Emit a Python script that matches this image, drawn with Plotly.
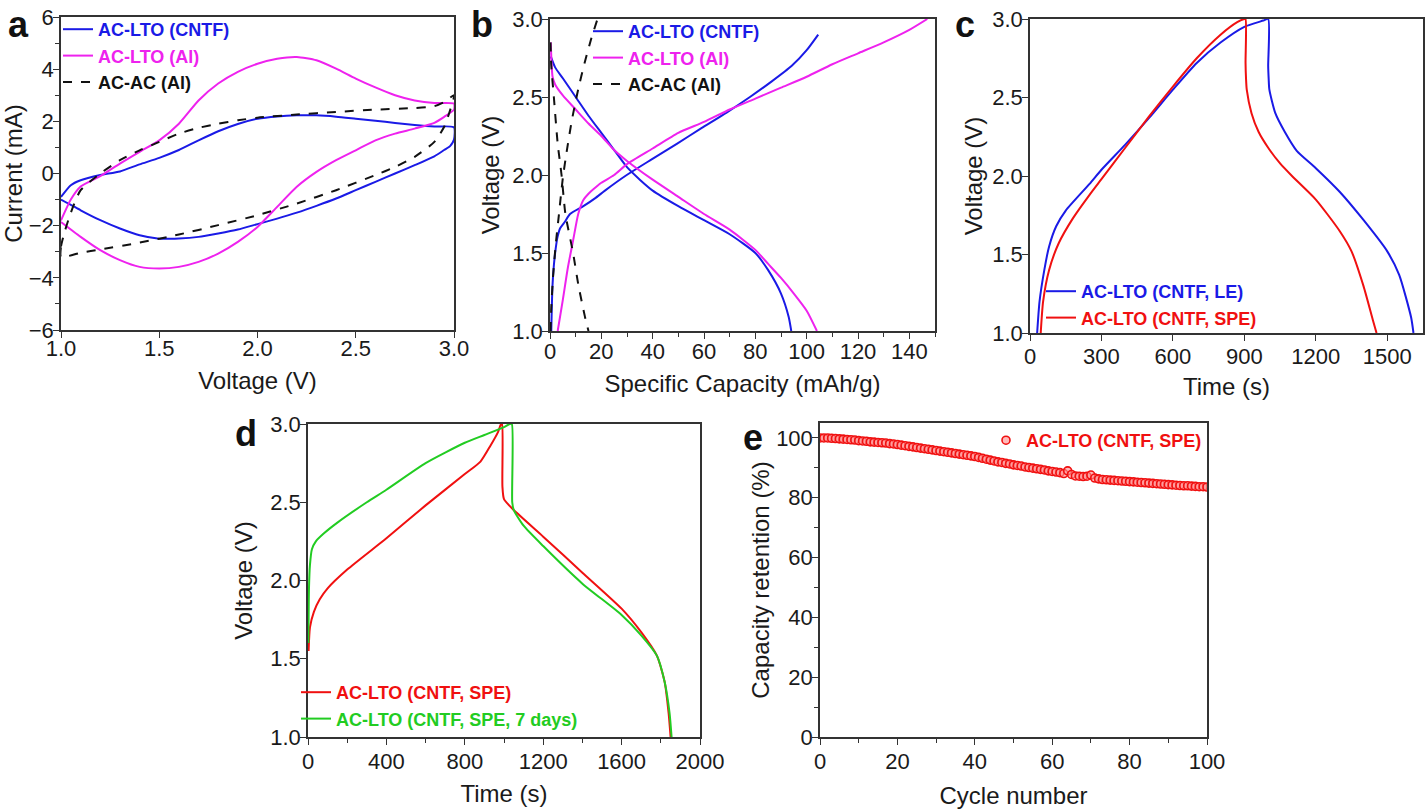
import plotly.graph_objects as go

W, H = 1425, 810

# ---------------- Panel a: CV ----------------
cv_cntf_v = [1.0, 1.05, 1.1, 1.2, 1.3, 1.4, 1.5, 1.6, 1.7, 1.8, 1.9, 2.0, 2.1, 2.2, 2.3, 2.4, 2.5, 2.6, 2.7, 2.8, 2.9, 3.0,
             3.0, 2.98, 2.95, 2.9, 2.8, 2.7, 2.6, 2.5, 2.4, 2.3, 2.2, 2.1, 2.0, 1.9, 1.8, 1.7, 1.6, 1.5, 1.4, 1.3, 1.2, 1.1, 1.05, 1.0]
cv_cntf_i = [-0.9, -0.45, -0.26, -0.06, 0.08, 0.35, 0.6, 0.9, 1.27, 1.62, 1.9, 2.1, 2.19, 2.23, 2.23, 2.18, 2.1, 2.02, 1.94, 1.86, 1.8, 1.77,
             1.3, 1.05, 0.9, 0.66, 0.32, 0.0, -0.32, -0.64, -0.96, -1.24, -1.5, -1.73, -1.94, -2.15, -2.3, -2.43, -2.49, -2.5, -2.37, -2.11, -1.79, -1.41, -1.2, -1.0]
cv_al_v = [1.0, 1.05, 1.1, 1.2, 1.3, 1.4, 1.5, 1.6, 1.7, 1.8, 1.9, 2.0, 2.1, 2.2, 2.3, 2.4, 2.5, 2.6, 2.7, 2.8, 2.9, 3.0,
           3.0, 2.95, 2.9, 2.8, 2.7, 2.6, 2.5, 2.4, 2.3, 2.2, 2.1, 2.0, 1.9, 1.8, 1.7, 1.6, 1.5, 1.4, 1.3, 1.2, 1.1, 1.0]
cv_al_i = [-1.8, -1.0, -0.5, -0.1, 0.38, 0.83, 1.27, 1.91, 2.8, 3.45, 3.9, 4.21, 4.4, 4.47, 4.34, 4.02, 3.64, 3.3, 3.0, 2.8, 2.7, 2.68,
           2.45, 2.17, 1.94, 1.72, 1.53, 1.27, 0.89, 0.51, 0.06, -0.51, -1.28, -2.05, -2.62, -3.07, -3.39, -3.58, -3.64, -3.58, -3.32, -2.94, -2.43, -1.86]
cv_acac_v = [1.0, 1.0, 1.02, 1.05, 1.1, 1.2, 1.3, 1.4, 1.5, 1.6, 1.7, 1.8, 1.9, 2.0, 2.2, 2.4, 2.6, 2.8, 2.9, 2.95, 3.0,
             2.98, 2.95, 2.9, 2.8, 2.7, 2.6, 2.4, 2.2, 2.0, 1.8, 1.6, 1.4, 1.2, 1.1, 1.0]
cv_acac_i = [-3.2, -2.8, -2.2, -1.5, -0.64, 0.0, 0.51, 0.89, 1.21, 1.53, 1.75, 1.91, 2.04, 2.14, 2.26, 2.36, 2.45, 2.51, 2.58, 2.74, 3.0,
             2.42, 1.79, 1.21, 0.64, 0.25, -0.06, -0.64, -1.15, -1.6, -1.98, -2.34, -2.65, -2.91, -3.04, -3.2]

# ---------------- Panel b: GCD vs capacity ----------------
b_cntf_ch_c = [0.5, 0.7, 1.0, 1.5, 2.0, 2.9, 4.0, 5.8, 7.8, 13, 17.5, 21.4, 29.9, 39.6, 49.4, 59, 68.8, 77.9, 86.4, 94.2, 100, 104.5]
b_cntf_ch_v = [1.0, 1.15, 1.3, 1.42, 1.5, 1.6, 1.66, 1.7, 1.75, 1.8, 1.85, 1.9, 2.0, 2.1, 2.2, 2.3, 2.4, 2.5, 2.6, 2.7, 2.8, 2.9]
b_cntf_dis_c = [0.3, 2, 5, 10, 15, 20, 25, 30, 35, 40, 50, 60, 70, 80, 85, 90, 93, 94]
b_cntf_dis_v = [2.76, 2.69, 2.62, 2.5, 2.38, 2.27, 2.16, 2.05, 1.97, 1.9, 1.8, 1.71, 1.62, 1.5, 1.39, 1.24, 1.09, 1.0]
b_al_ch_c = [3, 5, 7, 9, 11, 13, 15, 17, 20, 25, 30, 40, 50, 60, 70, 80, 90, 100, 110, 120, 130, 140, 147]
b_al_ch_v = [1.0, 1.2, 1.41, 1.58, 1.75, 1.84, 1.88, 1.91, 1.95, 2.0, 2.07, 2.17, 2.27, 2.34, 2.42, 2.49, 2.56, 2.63, 2.71, 2.78, 2.85, 2.93, 3.0]
b_al_dis_c = [0.3, 1, 2, 5, 10, 15, 20, 25, 30, 40, 50, 60, 70, 80, 85, 90, 95, 100, 104]
b_al_dis_v = [2.85, 2.63, 2.58, 2.51, 2.42, 2.33, 2.25, 2.16, 2.09, 1.97, 1.86, 1.75, 1.65, 1.52, 1.43, 1.34, 1.24, 1.13, 1.0]
b_acac_ch_c = [0.2, 0.5, 1.2, 2.2, 3.5, 5, 6.5, 8.5, 11, 13.5, 16, 18.5]
b_acac_ch_v = [1.0, 1.15, 1.35, 1.55, 1.75, 1.98, 2.15, 2.35, 2.55, 2.72, 2.87, 3.0]
b_acac_dis_c = [0.2, 0.5, 1.5, 3, 4.5, 6, 9, 11, 13.5, 15]
b_acac_dis_v = [2.85, 2.7, 2.5, 2.2, 2.0, 1.75, 1.5, 1.3, 1.1, 1.0]

# ---------------- Panel c: GCD vs time ----------------
c_le_t = [30, 40, 60, 80, 110, 150, 250, 300, 400, 500, 600, 700, 800, 900, 980, 1000,
          1000, 1002, 1005, 1030, 1070, 1120, 1200, 1300, 1400, 1500, 1550, 1600, 1610]
c_le_v = [1.0, 1.2, 1.4, 1.55, 1.68, 1.78, 1.95, 2.04, 2.2, 2.37, 2.55, 2.72, 2.85, 2.95, 2.99, 3.0,
          2.7, 2.62, 2.55, 2.4, 2.28, 2.16, 2.05, 1.9, 1.72, 1.52, 1.37, 1.1, 1.0]
c_spe_t = [45, 55, 80, 120, 180, 250, 300, 400, 500, 600, 700, 800, 870, 900, 905,
           905, 907, 910, 930, 960, 1000, 1050, 1100, 1200, 1300, 1350, 1400, 1440, 1455]
c_spe_v = [1.0, 1.2, 1.4, 1.57, 1.73, 1.88, 1.98, 2.18, 2.38, 2.57, 2.75, 2.9, 2.98, 3.0, 3.0,
           2.72, 2.62, 2.55, 2.4, 2.28, 2.18, 2.08, 2.0, 1.85, 1.65, 1.52, 1.3, 1.08, 1.0]

# ---------------- Panel d: fresh vs 7 days ----------------
d_spe_t = [3, 10, 30, 60, 100, 200, 400, 600, 800, 880, 930, 970, 985,
           990, 992, 1000, 1050, 1200, 1400, 1600, 1700, 1780, 1820, 1840, 1850]
d_spe_v = [1.55, 1.7, 1.8, 1.88, 1.95, 2.07, 2.27, 2.48, 2.68, 2.76, 2.86, 2.95, 3.0,
           3.0, 2.6, 2.52, 2.45, 2.28, 2.05, 1.82, 1.67, 1.52, 1.35, 1.15, 1.0]
d_7d_t = [2, 5, 10, 20, 40, 80, 150, 300, 400, 600, 800, 900, 1000, 1030,
          1040, 1042, 1050, 1100, 1200, 1400, 1600, 1700, 1780, 1820, 1845, 1855]
d_7d_v = [1.6, 1.95, 2.1, 2.2, 2.25, 2.3, 2.37, 2.5, 2.58, 2.75, 2.88, 2.93, 2.98, 3.0,
          3.0, 2.5, 2.45, 2.35, 2.22, 1.98, 1.78, 1.65, 1.52, 1.35, 1.15, 1.0]

# ---------------- Panel e: cycling ----------------
e_cycle = list(range(0, 101))
e_retention = [
    100.0, 100.0, 100.0, 99.9, 99.8, 99.7, 99.6, 99.5, 99.4, 99.3,
    99.1, 99.0, 98.9, 98.7, 98.6, 98.5, 98.4, 98.3, 98.1, 98.0,
    97.8, 97.6, 97.4, 97.2, 97.0, 96.8, 96.6, 96.4, 96.2, 96.0,
    95.8, 95.6, 95.4, 95.2, 95.0, 94.8, 94.6, 94.4, 94.2, 94.0,
    93.8, 93.5, 93.2, 92.9, 92.6, 92.3, 92.0, 91.8, 91.5, 91.3,
    91.0, 90.8, 90.6, 90.3, 90.1, 89.9, 89.7, 89.5, 89.3, 89.0,
    88.8, 88.6, 88.4, 88.1, 89.0, 87.8, 87.3, 87.2, 87.1, 87.2,
    87.6, 86.6, 86.3, 86.1, 86.0, 85.9, 85.8, 85.7, 85.6, 85.5,
    85.4, 85.3, 85.2, 85.1, 85.0, 84.9, 84.8, 84.7, 84.6, 84.5,
    84.4, 84.3, 84.2, 84.1, 84.0, 84.0, 83.9, 83.8, 83.7, 83.7,
    83.6]

BLUE = "#1a1ae6"
MAG = "#ee22ee"
BLACK = "#111111"
RED = "#f01010"
GREEN = "#22cc22"
FONT = "Liberation Sans, Arial, sans-serif"


def px_x(p):
    return p / W


def px_y(p):
    return 1 - p / H


def span(c, color):
    return f"<b><span style='color:{color}'>{c}</span></b>"


fig = go.Figure()
LW = 2
SM = 0.6


def ln(color, dash=None):
    d = dict(color=color, width=LW, shape="spline", smoothing=SM)
    if dash:
        d["dash"] = dash
    return d


# a
fig.add_trace(go.Scatter(x=cv_cntf_v, y=cv_cntf_i, mode="lines", line=ln(BLUE),
                         name=span("AC-LTO (CNTF)", BLUE), xaxis="x", yaxis="y", legend="legend"))
fig.add_trace(go.Scatter(x=cv_al_v, y=cv_al_i, mode="lines", line=ln(MAG),
                         name=span("AC-LTO (Al)", MAG), xaxis="x", yaxis="y", legend="legend"))
fig.add_trace(go.Scatter(x=cv_acac_v, y=cv_acac_i, mode="lines", line=ln(BLACK, "dash"),
                         name=span("AC-AC (Al)", BLACK), xaxis="x", yaxis="y", legend="legend"))

# b
fig.add_trace(go.Scatter(x=b_cntf_ch_c, y=b_cntf_ch_v, mode="lines", line=ln(BLUE),
                         name=span("AC-LTO (CNTF)", BLUE), legendgroup="bc", xaxis="x2", yaxis="y2", legend="legend2"))
fig.add_trace(go.Scatter(x=b_cntf_dis_c, y=b_cntf_dis_v, mode="lines", line=ln(BLUE),
                         showlegend=False, legendgroup="bc", xaxis="x2", yaxis="y2", legend="legend2"))
fig.add_trace(go.Scatter(x=b_al_ch_c, y=b_al_ch_v, mode="lines", line=ln(MAG),
                         name=span("AC-LTO (Al)", MAG), legendgroup="ba", xaxis="x2", yaxis="y2", legend="legend2"))
fig.add_trace(go.Scatter(x=b_al_dis_c, y=b_al_dis_v, mode="lines", line=ln(MAG),
                         showlegend=False, legendgroup="ba", xaxis="x2", yaxis="y2", legend="legend2"))
fig.add_trace(go.Scatter(x=b_acac_ch_c, y=b_acac_ch_v, mode="lines", line=ln(BLACK, "dash"),
                         name=span("AC-AC (Al)", BLACK), legendgroup="bk", xaxis="x2", yaxis="y2", legend="legend2"))
fig.add_trace(go.Scatter(x=b_acac_dis_c, y=b_acac_dis_v, mode="lines", line=ln(BLACK, "dash"),
                         showlegend=False, legendgroup="bk", xaxis="x2", yaxis="y2", legend="legend2"))

# c
fig.add_trace(go.Scatter(x=c_le_t, y=c_le_v, mode="lines", line=ln(BLUE),
                         name=span("AC-LTO (CNTF, LE)", BLUE), xaxis="x3", yaxis="y3", legend="legend3"))
fig.add_trace(go.Scatter(x=c_spe_t, y=c_spe_v, mode="lines", line=ln(RED),
                         name=span("AC-LTO (CNTF, SPE)", RED), xaxis="x3", yaxis="y3", legend="legend3"))

# d
fig.add_trace(go.Scatter(x=d_spe_t, y=d_spe_v, mode="lines", line=ln(RED),
                         name=span("AC-LTO (CNTF, SPE)", RED), xaxis="x4", yaxis="y4", legend="legend4"))
fig.add_trace(go.Scatter(x=d_7d_t, y=d_7d_v, mode="lines", line=ln(GREEN),
                         name=span("AC-LTO (CNTF, SPE, 7 days)", GREEN), xaxis="x4", yaxis="y4", legend="legend4"))

# e
fig.add_trace(go.Scatter(x=e_cycle, y=e_retention, mode="markers",
                         marker=dict(symbol="circle", size=8, color="rgba(255,140,140,0.6)",
                                     line=dict(color=RED, width=1.6)),
                         name=span("AC-LTO (CNTF, SPE)", RED), xaxis="x5", yaxis="y5", legend="legend5"))

TICKF = dict(family=FONT, size=22, color="#1a1a1a")
TITLEF = dict(family=FONT, size=24, color="#1a1a1a")


def axis(dom, rng, dtick, title, fmt, anchor, standoff, lblstand):
    d = dict(domain=dom, range=rng, dtick=dtick, tick0=0, anchor=anchor, automargin=False,
             showline=True, mirror=True, linecolor="#333", linewidth=1.5,
             ticks="outside", ticklen=6, tickwidth=1.3, tickcolor="#333",
             minor=dict(ticks="outside", ticklen=4, tickwidth=1.2, tickcolor="#333", nticks=2),
             showgrid=False, zeroline=False, tickfont=TICKF, ticklabelstandoff=lblstand,
             title=dict(text=title, font=TITLEF, standoff=standoff))
    if fmt:
        d["tickformat"] = fmt
    return d


LEGF = dict(family=FONT, size=18)


def leg(x, y, xa, ya):
    return dict(x=px_x(x), y=px_y(y), xanchor=xa, yanchor=ya, bgcolor="rgba(0,0,0,0)",
                font=LEGF, tracegroupgap=0, itemwidth=30)


fig.update_layout(
    width=W, height=H, margin=dict(l=0, r=0, t=0, b=0, autoexpand=False),
    paper_bgcolor="white", plot_bgcolor="white",
    xaxis=axis([px_x(61), px_x(454)], [1, 3], 0.5, "Voltage (V)", ".1f", "y", 12, -8),
    yaxis=axis([px_y(330), px_y(17)], [-6, 6], 2, "Current (mA)", None, "x", 3, -5),
    xaxis2=axis([px_x(550), px_x(935)], [0, 150], 20, "Specific Capacity (mAh/g)", None, "y2", 12, -6),
    yaxis2=axis([px_y(331), px_y(19)], [1, 3], 0.5, "Voltage (V)", ".1f", "x2", 6, -5),
    xaxis3=axis([px_x(1030), px_x(1423)], [0, 1650], 300, "Time (s)", None, "y3", 10, -3),
    yaxis3=axis([px_y(333), px_y(19)], [1, 3], 0.5, "Voltage (V)", ".1f", "x3", 3, -5),
    xaxis4=axis([px_x(308), px_x(700)], [0, 2000], 400, "Time (s)", None, "y4", 12, -2),
    yaxis4=axis([px_y(737), px_y(424)], [1, 3], 0.5, "Voltage (V)", ".1f", "x4", 11, -5),
    xaxis5=axis([px_x(820), px_x(1207)], [0, 100], 20, "Cycle number", None, "y5", 14, -2),
    yaxis5=axis([px_y(737), px_y(423)], [0, 105], 20, "Capacity retention (%)", None, "x5", 0, -5),
    legend=leg(58, 11, "left", "top"),
    legend2=leg(588, 13, "left", "top"),
    legend3=leg(1041, 336, "left", "bottom"),
    legend4=leg(296, 737, "left", "bottom"),
    legend5=leg(1207, 422, "right", "top"),
    showlegend=True,
)

letters = [("a", 18, 24), ("b", 482, 24), ("c", 965, 24), ("d", 246, 433), ("e", 753, 437)]
for t, lx, ly in letters:
    fig.add_annotation(text=f"<b>{t}</b>", x=px_x(lx), y=px_y(ly), xref="paper", yref="paper",
                       showarrow=False, xanchor="center", yanchor="middle",
                       font=dict(family=FONT, size=36, color="#111"))

fig.write_html("out.html")
